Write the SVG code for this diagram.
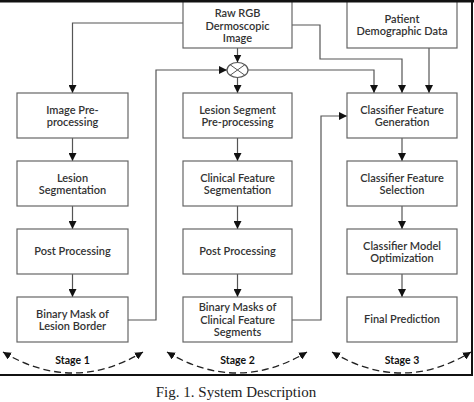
<svg xmlns="http://www.w3.org/2000/svg" width="474" height="402" viewBox="0 0 474 402">
<defs>
<marker id="ah" viewBox="0 0 10 10" refX="10" refY="5" markerWidth="8" markerHeight="8" markerUnits="userSpaceOnUse" orient="auto">
<path d="M0,0 L10,5 L0,10 z" fill="#111"/>
</marker>
<marker id="ahs" viewBox="0 0 10 10" refX="10" refY="5" markerWidth="8" markerHeight="8" markerUnits="userSpaceOnUse" orient="auto-start-reverse">
<path d="M0,0 L10,5 L0,10 z" fill="#111"/>
</marker>
<style>
.box{fill:#fff;stroke:#666;stroke-width:1.2}
.t{font-family:Lato,"Liberation Sans",sans-serif;font-size:11px;font-weight:600;fill:#333;text-anchor:middle}
.st{font-family:Lato,"Liberation Sans",sans-serif;font-size:10.5px;font-weight:bold;fill:#111;text-anchor:middle}
.ca{fill:none;stroke:#555;stroke-width:1.2;marker-end:url(#ah)}
.arc{fill:none;stroke:#222;stroke-width:1.3;stroke-dasharray:7,4;marker-start:url(#ahs);marker-end:url(#ahs)}
</style>
</defs>
<rect width="474" height="402" fill="#fff"/>

<g id="connectors">
<path class="ca" d="M183,23 H72.5 V93"/>
<path class="ca" d="M237.5,48 V62.5"/>
<path class="ca" d="M237.5,77.5 V93"/>
<path class="ca" d="M292,25 H320 V59 H402 V93"/>
<path class="ca" d="M248,70 H374 V93"/>
<path class="ca" d="M429,48 V93"/>
<path class="ca" d="M128,320 H156 V70 H227"/>
<path class="ca" d="M292,320 H321 V116 H347"/>
<path class="ca" d="M72.5,138 V161"/>
<path class="ca" d="M72.5,206 V229"/>
<path class="ca" d="M72.5,274 V297"/>
<path class="ca" d="M237.5,138 V161"/>
<path class="ca" d="M237.5,206 V229"/>
<path class="ca" d="M237.5,274 V297"/>
<path class="ca" d="M402,138 V161"/>
<path class="ca" d="M402,206 V229"/>
<path class="ca" d="M402,274 V297"/>
</g>

<g id="raw">
<rect class="box" x="183" y="-5" width="109" height="53"/>
<text class="t" x="237.5" y="17">Raw RGB</text>
<text class="t" x="237.5" y="29.5">Dermoscopic</text>
<text class="t" x="237.5" y="42">Image</text>
</g>
<g id="patient">
<rect class="box" x="347" y="-5" width="110" height="53"/>
<text class="t" x="402" y="22.5">Patient</text>
<text class="t" x="402" y="35">Demographic Data</text>
</g>
<g id="mult">
<ellipse cx="237.5" cy="70" rx="10.5" ry="7.5" fill="#fff" stroke="#555" stroke-width="1.2"/>
<path d="M230.1,64.7 L244.9,75.3 M230.1,75.3 L244.9,64.7" stroke="#555" stroke-width="1"/>
</g>

<g id="imgpre">
<rect class="box" x="17" y="93" width="111" height="45"/>
<text class="t" x="72.5" y="113.5">Image Pre-</text>
<text class="t" x="72.5" y="126">processing</text>
</g>
<g id="lesseg">
<rect class="box" x="17" y="161" width="111" height="45"/>
<text class="t" x="72.5" y="181.5">Lesion</text>
<text class="t" x="72.5" y="194">Segmentation</text>
</g>
<g id="post1">
<rect class="box" x="17" y="229" width="111" height="45"/>
<text class="t" x="72.5" y="255">Post Processing</text>
</g>
<g id="mask1">
<rect class="box" x="17" y="297" width="111" height="45"/>
<text class="t" x="72.5" y="317.5">Binary Mask of</text>
<text class="t" x="72.5" y="330">Lesion Border</text>
</g>

<g id="lsegpre">
<rect class="box" x="183" y="93" width="109" height="45"/>
<text class="t" x="237.5" y="113.5">Lesion Segment</text>
<text class="t" x="237.5" y="126">Pre-processing</text>
</g>
<g id="clinseg">
<rect class="box" x="183" y="161" width="109" height="45"/>
<text class="t" x="237.5" y="181.5">Clinical Feature</text>
<text class="t" x="237.5" y="194">Segmentation</text>
</g>
<g id="post2">
<rect class="box" x="183" y="229" width="109" height="45"/>
<text class="t" x="237.5" y="255">Post Processing</text>
</g>
<g id="mask2">
<rect class="box" x="183" y="297" width="109" height="45"/>
<text class="t" x="237.5" y="311">Binary Masks of</text>
<text class="t" x="237.5" y="323.5">Clinical Feature</text>
<text class="t" x="237.5" y="336">Segments</text>
</g>

<g id="cfgen">
<rect class="box" x="347" y="93" width="110" height="45"/>
<text class="t" x="402" y="113.5">Classifier Feature</text>
<text class="t" x="402" y="126">Generation</text>
</g>
<g id="cfsel">
<rect class="box" x="347" y="161" width="110" height="45"/>
<text class="t" x="402" y="181.5">Classifier Feature</text>
<text class="t" x="402" y="194">Selection</text>
</g>
<g id="cmopt">
<rect class="box" x="347" y="229" width="110" height="45"/>
<text class="t" x="402" y="249.5">Classifier Model</text>
<text class="t" x="402" y="262">Optimization</text>
</g>
<g id="final">
<rect class="box" x="347" y="297" width="110" height="45"/>
<text class="t" x="402" y="323">Final Prediction</text>
</g>

<g id="stages">
<path class="arc" d="M3,352 Q72.5,394 143,352"/>
<text class="st" x="72.5" y="364">Stage 1</text>
<path class="arc" d="M167,352 Q237,394 307,352"/>
<text class="st" x="237.5" y="364">Stage 2</text>
<path class="arc" d="M332,352 Q402,394 471,352"/>
<text class="st" x="402" y="364">Stage 3</text>
</g>

<g id="frame">
<line x1="0" y1="1.3" x2="474" y2="1.3" stroke="#111" stroke-width="2.6"/>
<line x1="472" y1="0" x2="472" y2="376" stroke="#111" stroke-width="2"/>
<line x1="0" y1="375" x2="473" y2="375" stroke="#111" stroke-width="2"/>
</g>
<text x="236" y="397" font-family="'Liberation Serif',serif" font-size="15" fill="#222" text-anchor="middle">Fig. 1. System Description</text>
</svg>
